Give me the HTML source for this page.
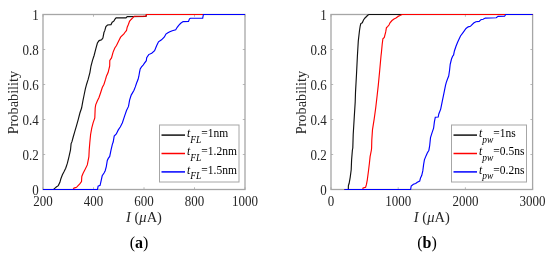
<!DOCTYPE html>
<html><head><meta charset="utf-8"><style>
html,body{margin:0;padding:0;background:#fff;}
svg{display:block;}
text{font-family:"Liberation Serif","Times New Roman",serif;fill:#262626;stroke:none;}
.tk{font-size:13px;}
.lb{font-size:14.5px;}
.pb{font-size:14.3px;}
.lg{font-size:11.5px;fill:#000;}
.sb{font-size:9.5px;}
.cap{font-size:16px;fill:#000;stroke:none;}
</style></head><body>
<svg width="550" height="254" viewBox="0 0 550 254">
<rect width="550" height="254" fill="#fff"/>
<rect x="43" y="14.5" width="202" height="175.0" fill="#fff" stroke="none"/>
<line x1="43.0" y1="189.5" x2="43.0" y2="187.3" stroke="#a6a6a6" stroke-width="0.8"/>
<line x1="43.0" y1="14.5" x2="43.0" y2="16.7" stroke="#a6a6a6" stroke-width="0.8"/>
<line x1="93.5" y1="189.5" x2="93.5" y2="187.3" stroke="#a6a6a6" stroke-width="0.8"/>
<line x1="93.5" y1="14.5" x2="93.5" y2="16.7" stroke="#a6a6a6" stroke-width="0.8"/>
<line x1="144.0" y1="189.5" x2="144.0" y2="187.3" stroke="#a6a6a6" stroke-width="0.8"/>
<line x1="144.0" y1="14.5" x2="144.0" y2="16.7" stroke="#a6a6a6" stroke-width="0.8"/>
<line x1="194.5" y1="189.5" x2="194.5" y2="187.3" stroke="#a6a6a6" stroke-width="0.8"/>
<line x1="194.5" y1="14.5" x2="194.5" y2="16.7" stroke="#a6a6a6" stroke-width="0.8"/>
<line x1="245.0" y1="189.5" x2="245.0" y2="187.3" stroke="#a6a6a6" stroke-width="0.8"/>
<line x1="245.0" y1="14.5" x2="245.0" y2="16.7" stroke="#a6a6a6" stroke-width="0.8"/>
<line x1="43" y1="189.5" x2="45.2" y2="189.5" stroke="#a6a6a6" stroke-width="0.8"/>
<line x1="245" y1="189.5" x2="242.8" y2="189.5" stroke="#a6a6a6" stroke-width="0.8"/>
<line x1="43" y1="154.5" x2="45.2" y2="154.5" stroke="#a6a6a6" stroke-width="0.8"/>
<line x1="245" y1="154.5" x2="242.8" y2="154.5" stroke="#a6a6a6" stroke-width="0.8"/>
<line x1="43" y1="119.5" x2="45.2" y2="119.5" stroke="#a6a6a6" stroke-width="0.8"/>
<line x1="245" y1="119.5" x2="242.8" y2="119.5" stroke="#a6a6a6" stroke-width="0.8"/>
<line x1="43" y1="84.5" x2="45.2" y2="84.5" stroke="#a6a6a6" stroke-width="0.8"/>
<line x1="245" y1="84.5" x2="242.8" y2="84.5" stroke="#a6a6a6" stroke-width="0.8"/>
<line x1="43" y1="49.5" x2="45.2" y2="49.5" stroke="#a6a6a6" stroke-width="0.8"/>
<line x1="245" y1="49.5" x2="242.8" y2="49.5" stroke="#a6a6a6" stroke-width="0.8"/>
<line x1="43" y1="14.5" x2="45.2" y2="14.5" stroke="#a6a6a6" stroke-width="0.8"/>
<line x1="245" y1="14.5" x2="242.8" y2="14.5" stroke="#a6a6a6" stroke-width="0.8"/>
<rect x="43" y="14.5" width="202" height="175.0" fill="none" stroke="#a6a6a6" stroke-width="1.3"/>
<polyline points="43,189.5 53.6,189.4 55,188.1 56.6,186.8 58.3,185.6 59.9,182.3 60.8,179 62.4,174.8 64.1,171.5 65.7,168.2 67.4,163.2 69,156.6 70.5,150 71.1,143.6 71.9,141.9 73.2,137 74.9,131.2 76.6,125.4 78.2,119.6 79.9,113 81.6,108 82.9,100.8 84.1,95 85.3,89.2 86.6,84.2 88.2,79.2 89.9,72.6 91,66 92.5,60.4 94.1,55.5 95.8,48.8 97.4,43 99.1,40.6 101.6,39.7 102.9,38.1 104,32.3 104.7,30.9 105.9,26.6 107.5,25 111,24.6 112.2,22.2 113.8,21.1 115,19.1 116.1,17.9 126,17.9 127.2,16.6 146,16.4 146.5,14.5 245,14.5" fill="none" stroke="#111" stroke-width="1.15" stroke-linejoin="miter"/>
<polyline points="43,189.5 73.2,189.4 74,188.1 76.5,187.3 78.1,185.6 79.8,183.9 81.5,181.5 81.8,176.5 83.1,173.2 84.8,169.9 87.3,164.9 88.9,156.6 89.2,150 89.8,142.8 90.6,134.5 91.8,127.9 93.1,122.9 94.8,117.9 95.2,108 95.7,104.9 97.4,100.8 99,97.5 100.7,92.5 102.3,87.5 104,84.2 105.6,79.2 106.5,75.9 108.1,72.6 109.7,66 109.8,60.4 111.5,57.9 113.1,52.1 114.8,48 116.5,45.5 118.9,40.6 120.6,37.2 123.9,33.9 125.6,31.5 126.5,30.5 127.2,27.2 128.5,24.3 129.5,21.4 131.1,19.5 132.7,17.9 134.3,16.2 145.8,16.2 146.3,14.5 245,14.5" fill="none" stroke="#ff0000" stroke-width="1.15" stroke-linejoin="miter"/>
<polyline points="43,189.5 97.5,189.4 98.1,186.1 100.1,185.4 101.1,180.9 102.2,175.8 104.2,172.8 105.2,170.7 106.3,166.6 107.3,160.5 108.3,158.4 109.7,156.4 111,150.2 112.4,144.1 113.2,142 114.2,136.1 116.3,134 118.3,129.9 120.4,126.8 122.4,122.8 124.4,116.6 126.5,110.5 128.5,106.4 129.6,100.2 131.2,95.1 134,90.3 135.3,86.9 136.7,82.7 138.1,79.3 138.8,76.5 139.5,72.4 140.2,69 141.5,66.9 142.9,65.5 144.3,63.4 146.3,60.7 146.7,57.6 148.7,54.6 151.7,53.2 154.6,50.7 156.6,45.7 158.5,41.8 161.5,39.8 164.4,36.9 165.9,34.1 167.9,32.7 169.8,31.7 172.3,30.7 175.7,29.7 177.2,27.3 178.7,25.3 180.7,23.3 183.1,21.6 188.5,21.5 189.5,18.9 190.5,18.2 202.7,18.2 203.4,14.5 245,14.5" fill="none" stroke="#0000ff" stroke-width="1.15" stroke-linejoin="miter"/>
<text transform="translate(38.8,194.6) scale(1,1.1)" text-anchor="end" class="tk">0</text>
<text transform="translate(38.8,159.6) scale(1,1.1)" text-anchor="end" class="tk">0.2</text>
<text transform="translate(38.8,124.6) scale(1,1.1)" text-anchor="end" class="tk">0.4</text>
<text transform="translate(38.8,89.6) scale(1,1.1)" text-anchor="end" class="tk">0.6</text>
<text transform="translate(38.8,54.6) scale(1,1.1)" text-anchor="end" class="tk">0.8</text>
<text transform="translate(38.8,19.6) scale(1,1.1)" text-anchor="end" class="tk">1</text>
<text transform="translate(43,205.6) scale(1,1.1)" text-anchor="middle" class="tk">200</text>
<text transform="translate(93.5,205.6) scale(1,1.1)" text-anchor="middle" class="tk">400</text>
<text transform="translate(144,205.6) scale(1,1.1)" text-anchor="middle" class="tk">600</text>
<text transform="translate(194.5,205.6) scale(1,1.1)" text-anchor="middle" class="tk">800</text>
<text transform="translate(245,205.6) scale(1,1.1)" text-anchor="middle" class="tk">1000</text>
<rect x="159.5" y="125" width="79.5" height="57" fill="#fff" stroke="#a6a6a6" stroke-width="1"/>
<line x1="161.5" y1="135.1" x2="185.0" y2="135.1" stroke="#111" stroke-width="1.5"/>
<text x="187.0" y="136.7" class="lg"><tspan font-style="italic">t</tspan><tspan class="sb" font-style="italic" dy="5.8">FL</tspan><tspan dy="-5.8">=1nm</tspan></text>
<line x1="161.5" y1="153.5" x2="185.0" y2="153.5" stroke="#ff0000" stroke-width="1.5"/>
<text x="187.0" y="155.1" class="lg"><tspan font-style="italic">t</tspan><tspan class="sb" font-style="italic" dy="5.8">FL</tspan><tspan dy="-5.8">=1.2nm</tspan></text>
<line x1="161.5" y1="171.89999999999998" x2="185.0" y2="171.89999999999998" stroke="#0000ff" stroke-width="1.5"/>
<text x="187.0" y="173.49999999999997" class="lg"><tspan font-style="italic">t</tspan><tspan class="sb" font-style="italic" dy="5.8">FL</tspan><tspan dy="-5.8">=1.5nm</tspan></text>
<rect x="331" y="14.5" width="201.60000000000002" height="175.0" fill="#fff" stroke="none"/>
<line x1="331.0" y1="189.5" x2="331.0" y2="187.3" stroke="#a6a6a6" stroke-width="0.8"/>
<line x1="331.0" y1="14.5" x2="331.0" y2="16.7" stroke="#a6a6a6" stroke-width="0.8"/>
<line x1="398.2" y1="189.5" x2="398.2" y2="187.3" stroke="#a6a6a6" stroke-width="0.8"/>
<line x1="398.2" y1="14.5" x2="398.2" y2="16.7" stroke="#a6a6a6" stroke-width="0.8"/>
<line x1="465.4" y1="189.5" x2="465.4" y2="187.3" stroke="#a6a6a6" stroke-width="0.8"/>
<line x1="465.4" y1="14.5" x2="465.4" y2="16.7" stroke="#a6a6a6" stroke-width="0.8"/>
<line x1="532.6" y1="189.5" x2="532.6" y2="187.3" stroke="#a6a6a6" stroke-width="0.8"/>
<line x1="532.6" y1="14.5" x2="532.6" y2="16.7" stroke="#a6a6a6" stroke-width="0.8"/>
<line x1="331" y1="189.5" x2="333.2" y2="189.5" stroke="#a6a6a6" stroke-width="0.8"/>
<line x1="532.6" y1="189.5" x2="530.4" y2="189.5" stroke="#a6a6a6" stroke-width="0.8"/>
<line x1="331" y1="154.5" x2="333.2" y2="154.5" stroke="#a6a6a6" stroke-width="0.8"/>
<line x1="532.6" y1="154.5" x2="530.4" y2="154.5" stroke="#a6a6a6" stroke-width="0.8"/>
<line x1="331" y1="119.5" x2="333.2" y2="119.5" stroke="#a6a6a6" stroke-width="0.8"/>
<line x1="532.6" y1="119.5" x2="530.4" y2="119.5" stroke="#a6a6a6" stroke-width="0.8"/>
<line x1="331" y1="84.5" x2="333.2" y2="84.5" stroke="#a6a6a6" stroke-width="0.8"/>
<line x1="532.6" y1="84.5" x2="530.4" y2="84.5" stroke="#a6a6a6" stroke-width="0.8"/>
<line x1="331" y1="49.5" x2="333.2" y2="49.5" stroke="#a6a6a6" stroke-width="0.8"/>
<line x1="532.6" y1="49.5" x2="530.4" y2="49.5" stroke="#a6a6a6" stroke-width="0.8"/>
<line x1="331" y1="14.5" x2="333.2" y2="14.5" stroke="#a6a6a6" stroke-width="0.8"/>
<line x1="532.6" y1="14.5" x2="530.4" y2="14.5" stroke="#a6a6a6" stroke-width="0.8"/>
<rect x="331" y="14.5" width="201.60000000000002" height="175.0" fill="none" stroke="#a6a6a6" stroke-width="1.3"/>
<polyline points="344.6,189.5 348.3,189.5 348.4,185.5 349.1,183.5 349.5,181.4 350.2,177.3 351.2,169.8 351.6,159.9 352.4,150 352.8,148 353.2,134.7 354.3,116.5 355.2,102 355.5,92.4 356.5,74.2 357.4,56 358.3,40.9 359.5,30.5 360.2,26 360.8,23.6 362.3,22.8 363.5,20 365,18 366.5,16.5 368,15 369,14.5 532.6,14.5" fill="none" stroke="#111" stroke-width="1.15" stroke-linejoin="miter"/>
<polyline points="344.6,189.5 362.7,189.5 363.1,188 365.6,187.2 366.4,184.7 367.3,179.8 368.4,171.5 369.4,163.2 370.1,156.6 371.4,150 371.6,148 371.8,140 372.5,129.6 374.2,118.8 375.7,108 377.2,95 378.3,85.1 379.7,70.5 381,56 381.4,52.6 382.2,44.3 382.9,38.8 384.3,37.4 385.7,31.9 386.4,27.8 387.8,26.4 389,25 390,22.8 392,20.5 394,19 396,18 398,16.5 400,15.5 402,14.5 532.6,14.5" fill="none" stroke="#ff0000" stroke-width="1.15" stroke-linejoin="miter"/>
<polyline points="344.6,189.5 410.6,189.5 411.2,186 413.4,184.3 415.7,183.5 417.3,182.2 419.7,181.1 420.5,178 421.7,175.6 422.8,170.9 423.6,164.6 424.4,159.9 426,155.9 427.3,153 428.9,150.2 429.7,145.5 430.5,137.6 432,132.9 433.6,128.2 434.4,121.9 435.3,117.2 438.2,117 438.8,114 440.7,109.1 442.3,101.2 443.9,93.3 445.5,85.4 446.3,82.3 447.5,79 448.7,76 449.6,70 450.2,64.3 451.5,59 452.5,56.5 453.6,54.9 454.4,51 456,46.2 457.6,42.3 459.1,39.1 460.5,36 463.2,32.4 466,28.5 468.2,26.9 470.4,26.3 473.7,23 475.9,21.7 479.2,21.4 480.9,19.7 483.1,19.2 485.3,18.1 496.3,17.7 498,16.4 504.6,16.2 505.7,14.5 532.6,14.5" fill="none" stroke="#0000ff" stroke-width="1.15" stroke-linejoin="miter"/>
<text transform="translate(326.8,194.6) scale(1,1.1)" text-anchor="end" class="tk">0</text>
<text transform="translate(326.8,159.6) scale(1,1.1)" text-anchor="end" class="tk">0.2</text>
<text transform="translate(326.8,124.6) scale(1,1.1)" text-anchor="end" class="tk">0.4</text>
<text transform="translate(326.8,89.6) scale(1,1.1)" text-anchor="end" class="tk">0.6</text>
<text transform="translate(326.8,54.6) scale(1,1.1)" text-anchor="end" class="tk">0.8</text>
<text transform="translate(326.8,19.6) scale(1,1.1)" text-anchor="end" class="tk">1</text>
<text transform="translate(331,205.6) scale(1,1.1)" text-anchor="middle" class="tk">0</text>
<text transform="translate(398.2,205.6) scale(1,1.1)" text-anchor="middle" class="tk">1000</text>
<text transform="translate(465.4,205.6) scale(1,1.1)" text-anchor="middle" class="tk">2000</text>
<text transform="translate(532.6,205.6) scale(1,1.1)" text-anchor="middle" class="tk">3000</text>
<rect x="451.5" y="125" width="75" height="57" fill="#fff" stroke="#a6a6a6" stroke-width="1"/>
<line x1="453.5" y1="135.1" x2="477.0" y2="135.1" stroke="#111" stroke-width="1.5"/>
<text x="479.0" y="136.7" class="lg"><tspan font-style="italic">t</tspan><tspan class="sb" font-style="italic" dy="5.8">pw</tspan><tspan dy="-5.8">=1ns</tspan></text>
<line x1="453.5" y1="153.5" x2="477.0" y2="153.5" stroke="#ff0000" stroke-width="1.5"/>
<text x="479.0" y="155.1" class="lg"><tspan font-style="italic">t</tspan><tspan class="sb" font-style="italic" dy="5.8">pw</tspan><tspan dy="-5.8">=0.5ns</tspan></text>
<line x1="453.5" y1="171.89999999999998" x2="477.0" y2="171.89999999999998" stroke="#0000ff" stroke-width="1.5"/>
<text x="479.0" y="173.49999999999997" class="lg"><tspan font-style="italic">t</tspan><tspan class="sb" font-style="italic" dy="5.8">pw</tspan><tspan dy="-5.8">=0.2ns</tspan></text>
<text transform="translate(18.1,102.6) rotate(-90)" text-anchor="middle" class="pb">Probability</text>
<text transform="translate(306.1,102.6) rotate(-90)" text-anchor="middle" class="pb">Probability</text>
<text x="144" y="221.8" text-anchor="middle" class="lb"><tspan font-style="italic">I</tspan> (<tspan font-style="italic">μ</tspan>A)</text>
<text x="431.8" y="221.8" text-anchor="middle" class="lb"><tspan font-style="italic">I</tspan> (<tspan font-style="italic">μ</tspan>A)</text>
<text x="139" y="247.6" text-anchor="middle" class="cap">(<tspan font-weight="bold">a</tspan>)</text>
<text x="427" y="247.6" text-anchor="middle" class="cap">(<tspan font-weight="bold">b</tspan>)</text>
</svg>
</body></html>
